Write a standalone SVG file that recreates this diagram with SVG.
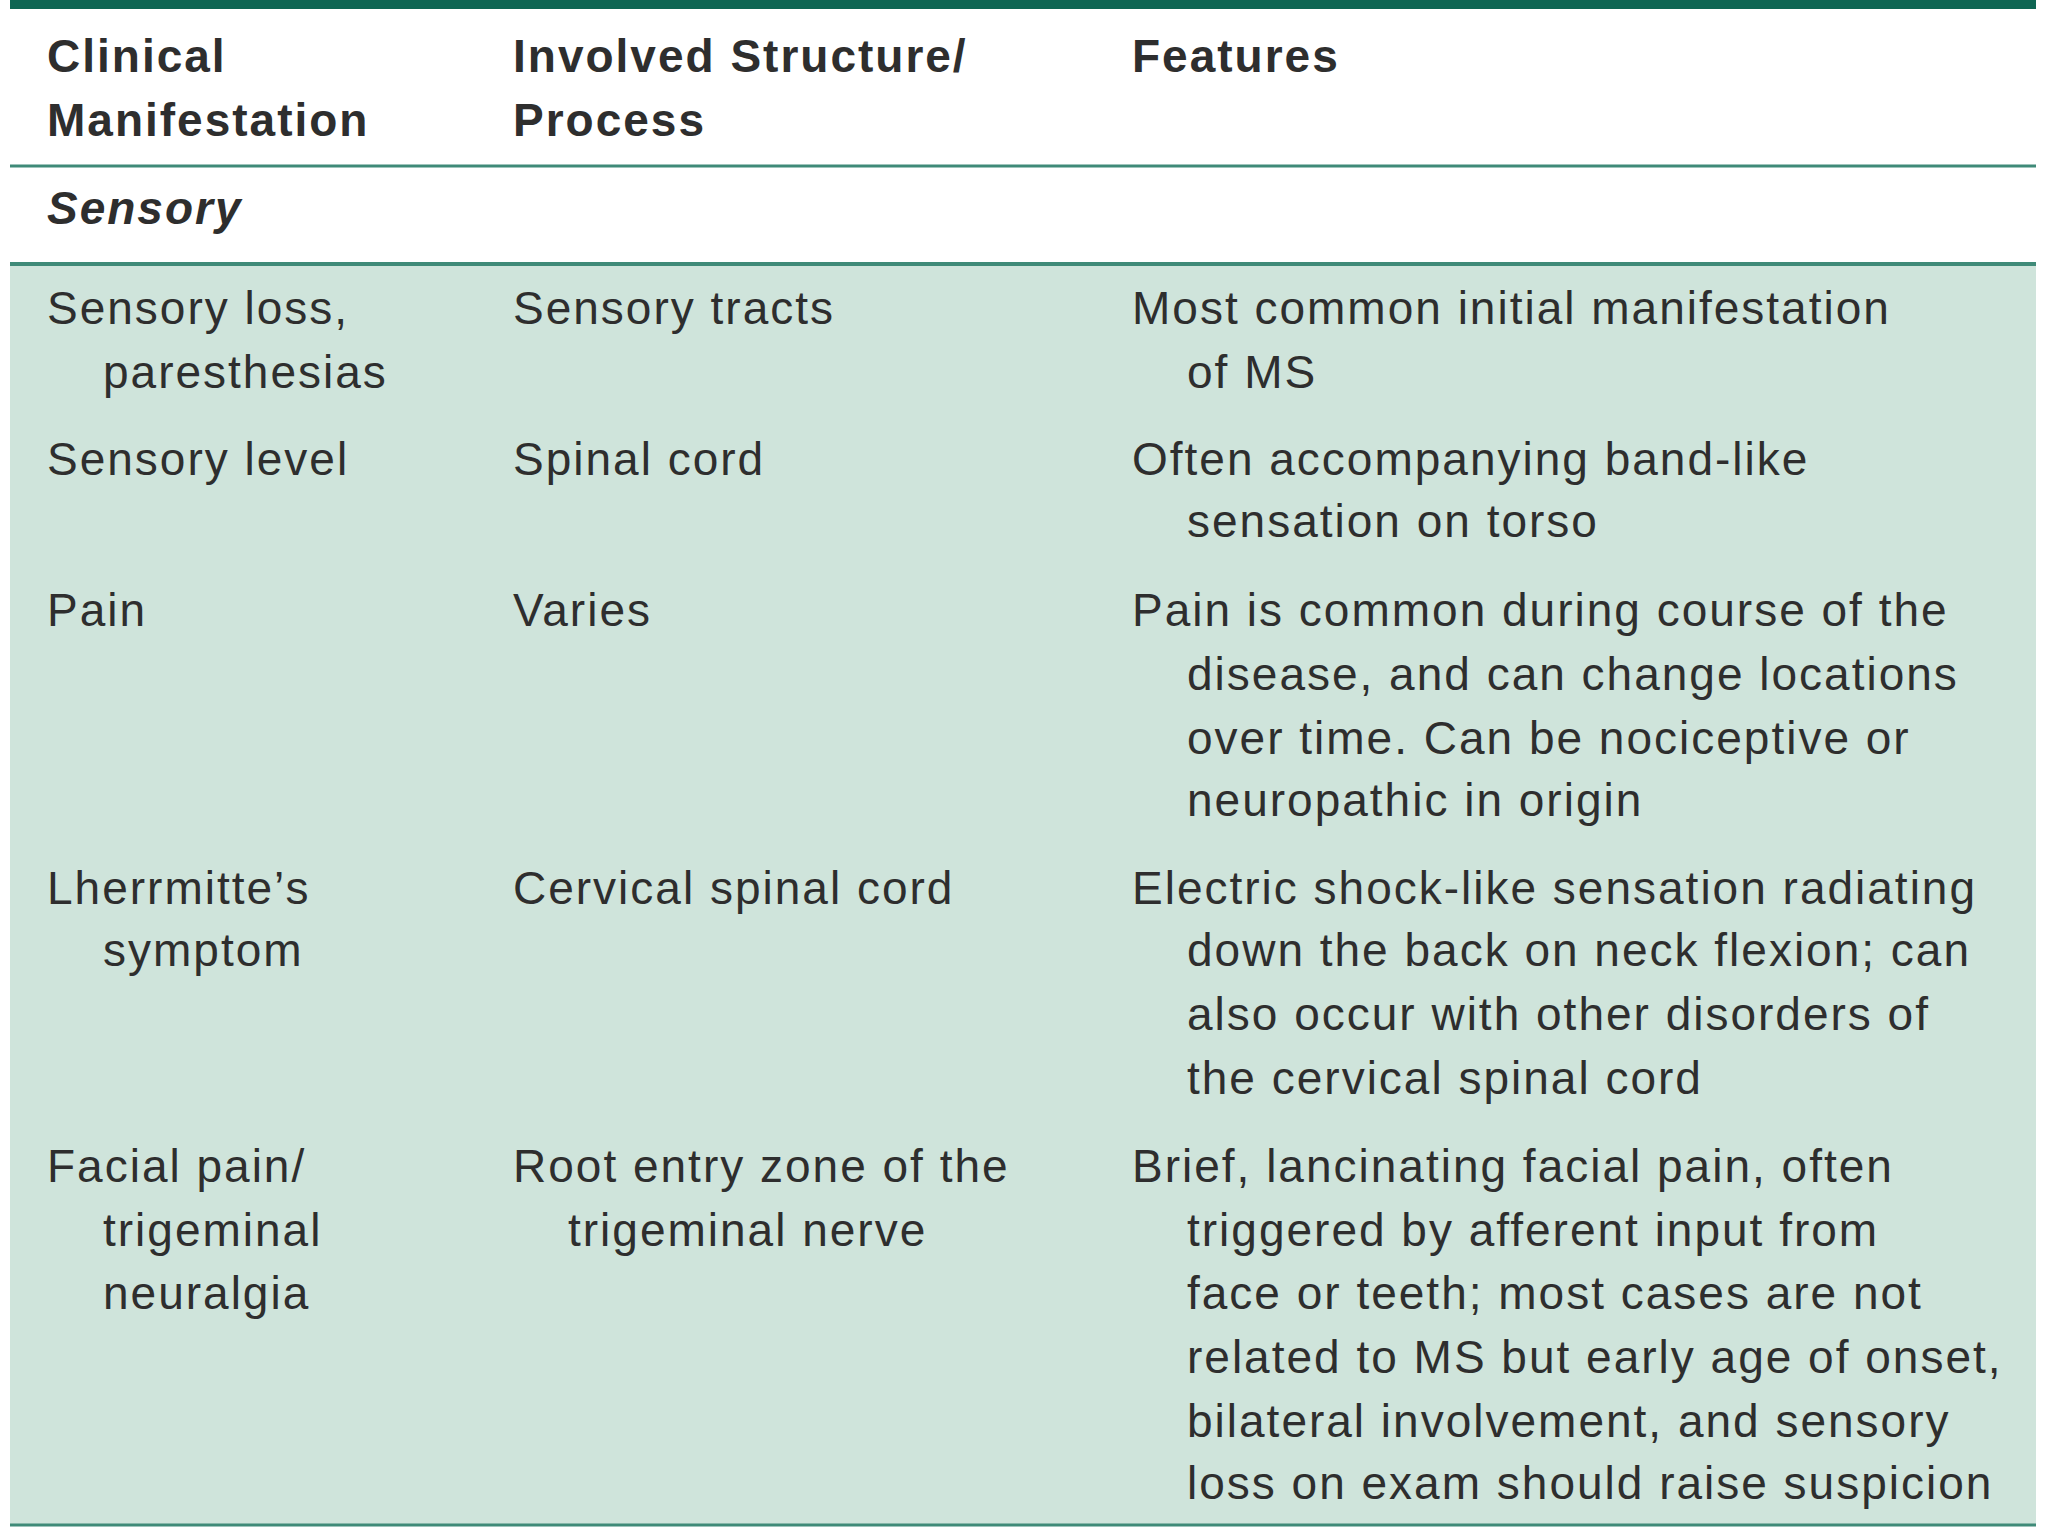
<svg xmlns="http://www.w3.org/2000/svg" width="2048" height="1536" viewBox="0 0 2048 1536">
<style>
text{font-family:"Liberation Sans",Arial,sans-serif;font-size:46px;letter-spacing:2px;fill:#2e2e2e}
.h{font-weight:bold}
.i{font-weight:bold;font-style:italic}
.ln{stroke:#3f8a78;stroke-width:3}
</style>
<rect width="2048" height="1536" fill="#fff"/>
<rect x="10" y="264" width="2026" height="1261" fill="#cfe4db"/>
<rect x="10" y="0" width="2026" height="9" fill="#0f6653"/>
<line class="ln" x1="10" y1="166" x2="2036" y2="166"/>
<line class="ln" x1="10" y1="264" x2="2036" y2="264" style="stroke-width:4"/>
<line class="ln" x1="10" y1="1525" x2="2036" y2="1525"/>
<g id="header">
<text class="h" x="47" y="72">Clinical</text><text class="h" x="47" y="136">Manifestation</text>
<text class="h" x="513" y="72">Involved Structure/</text><text class="h" x="513" y="136">Process</text>
<text class="h" x="1132" y="72">Features</text>
<text class="i" x="47" y="224">Sensory</text>
</g>
<g id="row1">
<text x="47" y="324">Sensory loss,</text><text x="103" y="388">paresthesias</text>
<text x="513" y="324">Sensory tracts</text>
<text x="1132" y="324">Most common initial manifestation</text><text x="1187" y="388">of MS</text>
</g>
<g id="row2">
<text x="47" y="475">Sensory level</text>
<text x="513" y="475">Spinal cord</text>
<text x="1132" y="475">Often accompanying band-like</text><text x="1187" y="537">sensation on torso</text>
</g>
<g id="row3">
<text x="47" y="626">Pain</text>
<text x="513" y="626">Varies</text>
<text x="1132" y="626">Pain is common during course of the</text>
<text x="1187" y="690">disease, and can change locations</text>
<text x="1187" y="754">over time. Can be nociceptive or</text>
<text x="1187" y="816">neuropathic in origin</text>
</g>
<g id="row4">
<text x="47" y="904">Lherrmitte’s</text><text x="103" y="966">symptom</text>
<text x="513" y="904">Cervical spinal cord</text>
<text x="1132" y="904">Electric shock-like sensation radiating</text>
<text x="1187" y="966">down the back on neck flexion; can</text>
<text x="1187" y="1030">also occur with other disorders of</text>
<text x="1187" y="1094">the cervical spinal cord</text>
</g>
<g id="row5">
<text x="47" y="1182">Facial pain/</text><text x="103" y="1246">trigeminal</text><text x="103" y="1309">neuralgia</text>
<text x="513" y="1182">Root entry zone of the</text><text x="568" y="1246">trigeminal nerve</text>
<text x="1132" y="1182">Brief, lancinating facial pain, often</text>
<text x="1187" y="1246">triggered by afferent input from</text>
<text x="1187" y="1309">face or teeth; most cases are not</text>
<text x="1187" y="1373">related to MS but early age of onset,</text>
<text x="1187" y="1437">bilateral involvement, and sensory</text>
<text x="1187" y="1499">loss on exam should raise suspicion</text>
</g>
</svg>
